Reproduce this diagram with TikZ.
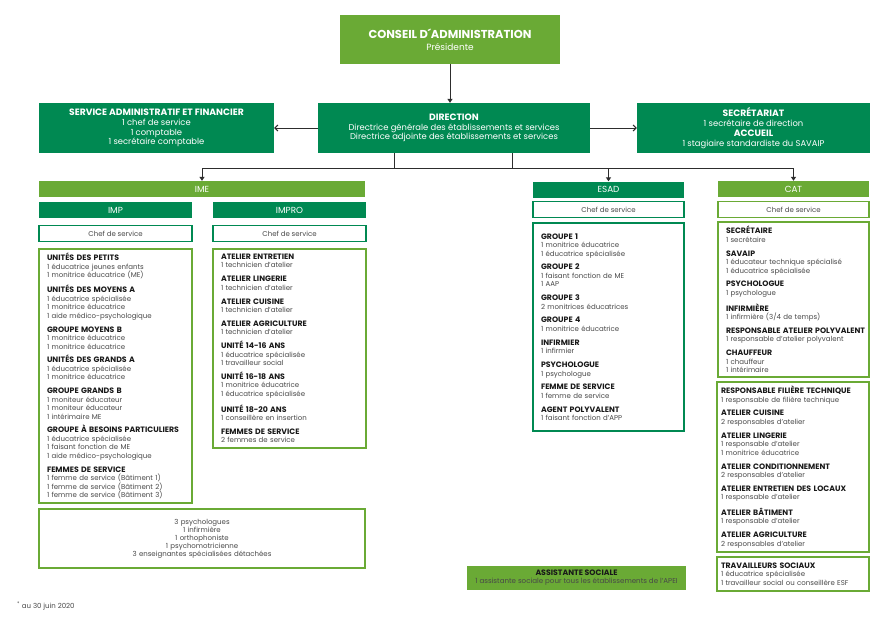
\documentclass[tikz,border=0pt]{standalone}
\usepackage{fontspec}
\setmainfont{Poppins}
\usetikzlibrary{arrows.meta}
\definecolor{lg}{RGB}{106,170,53}
\definecolor{dg}{RGB}{0,137,82}
\definecolor{hdc}{RGB}{25,25,25}
\definecolor{txc}{RGB}{72,72,72}
\definecolor{lnc}{RGB}{45,45,45}
\newcommand{\hdr}[1]{\mbox{\fontsize{7.8}{8.5}\selectfont\bfseries\color{hdc}#1}}
\newcommand{\dhd}[1]{{\fontsize{9.2}{9.8}\selectfont\bfseries #1}}
\begin{document}
\begin{tikzpicture}[x=1pt,y=-1pt,
  topbox/.style={fill=lg, text=white, inner sep=0pt, align=center, font=\fontsize{9}{12}\selectfont},
  darkbox/.style={fill=dg, text=white, inner sep=0pt, align=center, minimum height=50pt, font=\fontsize{8.4}{9.8}\selectfont},
  bar/.style={inner sep=0pt, text=white, minimum height=16pt, font=\fontsize{8.8}{10}\selectfont},
  lgbar/.style={bar, fill=lg},
  dgbar/.style={bar, fill=dg},
  chef/.style={draw=#1, line width=1.1pt, fill=white, inner sep=0pt, text=txc, minimum height=16pt, font=\fontsize{7}{8}\selectfont},
  content/.style={draw=#1, line width=1.1pt, fill=white, inner ysep=0pt, inner xsep=8pt, align=left, text=txc, font=\fontsize{7}{8.5}\selectfont},
  line/.style={draw=lnc, line width=1pt},
  arr/.style={line, -{Triangle[length=4pt,width=5pt]}},
  barb/.style={line, -{Straight Barb[length=3pt,width=6pt]}}
]
\useasboundingbox (0,0) rectangle (881,624);
\fill[white] (0,0) rectangle (881,624);

% top level
\node[topbox, minimum width=220pt, minimum height=49pt] (conseil) at (450,39.5)
  {{\fontsize{11.5}{12}\selectfont\bfseries CONSEIL D´ADMINISTRATION}\\Présidente};
\node[darkbox, minimum width=272pt] (dir) at (454,128)
  {\dhd{DIRECTION}\\Directrice générale des établissements et services\\Directrice adjointe des établissements et services};
\node[darkbox, minimum width=235pt] (admin) at (156.5,128)
  {\dhd{SERVICE ADMINISTRATIF ET FINANCIER}\\1 chef de service\\1 comptable\\1 secrétaire comptable};
\node[darkbox, minimum width=233pt] (secr) at (753.5,128)
  {\dhd{SECRÉTARIAT}\\1 secrétaire de direction\\\dhd{ACCUEIL}\\1 stagiaire standardiste du SAVAIP};

% IME
\node[lgbar, minimum width=326pt] (ime) at (202,189) {IME};
\node[dgbar, minimum width=153pt] (imp) at (115.5,210) {IMP};
\node[dgbar, minimum width=153pt] (impro) at (289.5,210) {IMPRO};
\node[chef=dg, minimum width=153pt] (impchef) at (115.5,233.5) {Chef de service};
\node[chef=dg, minimum width=153pt] (improchef) at (289.5,233.5) {Chef de service};
\node[content=lg, text width=137pt, minimum height=254pt] (impbox) at (115.5,376) {%
\hdr{UNITÉS DES PETITS}\\
1 éducatrice jeunes enfants\\
1 monitrice éducatrice (ME)\\[5.3pt]
\hdr{UNITÉS DES MOYENS A}\\
1 éducatrice spécialisée\\
1 monitrice éducatrice\\
1 aide médico-psychologique\\[5.3pt]
\hdr{GROUPE MOYENS B}\\
1 monitrice éducatrice\\
1 monitrice éducatrice\\[5.3pt]
\hdr{UNITÉS DES GRANDS A}\\
1 éducatrice spécialisée\\
1 monitrice éducatrice\\[5.3pt]
\hdr{GROUPE GRANDS B}\\
1 moniteur éducateur\\
1 moniteur éducateur\\
1 intérimaire ME\\[5.3pt]
\hdr{GROUPE À BESOINS PARTICULIERS}\\
1 éducatrice spécialisée\\
1 faisant fonction de ME\\
1 aide médico-psychologique\\[5.3pt]
\hdr{FEMMES DE SERVICE}\\
1 femme de service (Bâtiment 1)\\
1 femme de service (Bâtiment 2)\\
1 femme de service (Bâtiment 3)};
\node[content=lg, text width=137pt, minimum height=199pt] (improbox) at (289.5,348.5) {%
\hdr{ATELIER ENTRETIEN}\\
1 technicien d'atelier\\[5.3pt]
\hdr{ATELIER LINGERIE}\\
1 technicien d'atelier\\[5.3pt]
\hdr{ATELIER CUISINE}\\
1 technicien d'atelier\\[5.3pt]
\hdr{ATELIER AGRICULTURE}\\
1 technicien d'atelier\\[5.3pt]
\hdr{UNITÉ 14-16 ANS}\\
1 éducatrice spécialisée\\
1 travailleur social\\[5.3pt]
\hdr{UNITÉ 16-18 ANS}\\
1 monitrice éducatrice\\
1 éducatrice spécialisée\\[5.3pt]
\hdr{UNITÉ 18-20 ANS}\\
1 conseillère en insertion\\[5.3pt]
\hdr{FEMMES DE SERVICE}\\
2 femmes de service};
\node[content=lg, align=center, text width=310pt, minimum height=59pt, font=\fontsize{7}{8}\selectfont] (imeextra) at (202,538.5) {%
3 psychologues\\1 infirmière\\1 orthophoniste\\1 psychomotricienne\\3 enseignantes spécialisées détachées};

% ESAD
\node[dgbar, minimum width=151pt] (esad) at (608.5,189.5) {ESAD};
\node[chef=dg, minimum width=151pt] (esadchef) at (608.5,209.5) {Chef de service};
\node[content=dg, text width=135pt, minimum height=208pt] (esadbox) at (608.5,327) {%
\hdr{GROUPE 1}\\
1 monitrice éducatrice\\
1 éducatrice spécialisée\\[5.3pt]
\hdr{GROUPE 2}\\
1 faisant fonction de ME\\
1 AAP\\[5.3pt]
\hdr{GROUPE 3}\\
2 monitrices éducatrices\\[5.3pt]
\hdr{GROUPE 4}\\
1 monitrice éducatrice\\[5.3pt]
\hdr{INFIRMIER}\\
1 infirmier\\[5.3pt]
\hdr{PSYCHOLOGUE}\\
1 psychologue\\[5.3pt]
\hdr{FEMME DE SERVICE}\\
1 femme de service\\[5.3pt]
\hdr{AGENT POLYVALENT}\\
1 faisant fonction d'APP};

% CAT
\node[lgbar, minimum width=151pt] (cat) at (793.5,189) {CAT};
\node[chef=lg, minimum width=151pt] (catchef) at (793.5,209.5) {Chef de service};
\node[content=lg, text width=135pt, minimum height=155pt] (catbox) at (793.5,299.5) {%
\hdr{SECRÉTAIRE}\\
1 secrétaire\\[5.3pt]
\hdr{SAVAIP}\\
1 éducateur technique spécialisé\\
1 éducatrice spécialisée\\[5.3pt]
\hdr{PSYCHOLOGUE}\\
1 psychologue\\[5.3pt]
\hdr{INFIRMIÈRE}\\
1 infirmière (3/4 de temps)\\[5.3pt]
\hdr{RESPONSABLE ATELIER POLYVALENT}\\
1 responsable d'atelier polyvalent\\[5.3pt]
\hdr{CHAUFFEUR}\\
1 chauffeur\\
1 intérimaire};
\node[content=lg, inner xsep=4pt, text width=144pt, minimum height=170pt] (atelbox) at (793,467) {%
\hdr{RESPONSABLE FILIÈRE TECHNIQUE}\\
1 responsable de filière technique\\[5.3pt]
\hdr{ATELIER CUISINE}\\
2 responsables d'atelier\\[5.3pt]
\hdr{ATELIER LINGERIE}\\
1 responsable d'atelier\\
1 monitrice éducatrice\\[5.3pt]
\hdr{ATELIER CONDITIONNEMENT}\\
2 responsables d'atelier\\[5.3pt]
\hdr{ATELIER ENTRETIEN DES LOCAUX}\\
1 responsable d'atelier\\[5.3pt]
\hdr{ATELIER BÂTIMENT}\\
1 responsable d'atelier\\[5.3pt]
\hdr{ATELIER AGRICULTURE}\\
2 responsables d'atelier};
\node[content=lg, inner xsep=4pt, text width=144pt, minimum height=34pt] (travbox) at (793,574) {%
\hdr{TRAVAILLEURS SOCIAUX}\\
1 éducatrice spécialisée\\
1 travailleur social ou conseillère ESF};

% assistante sociale
\node[fill=lg, inner sep=0pt, align=center, minimum width=219pt, minimum height=24pt, text=txc, font=\fontsize{7.1}{8}\selectfont] (assist) at (576.5,578) {%
\hdr{ASSISTANTE SOCIALE}\\1 assistante sociale pour tous les établissements de l'APEI};

% footnote
\node[anchor=west, inner sep=0pt, text=txc, font=\fontsize{7}{8}\selectfont] (note) at (17,606) {\textsuperscript{*} au 30 juin 2020};

% connectors
\coordinate (leg1) at (394,168);
\coordinate (leg2) at (512,168);
\draw[arr] (conseil.south) -- (conseil.south |- dir.north);
\draw[barb] (dir.west) -- (admin.east);
\draw[barb] (dir.east) -- (secr.west);
\draw[line] (leg1 |- dir.south) -- (leg1);
\draw[line] (leg2 |- dir.south) -- (leg2);
\draw[line] (ime.north |- leg1) -- (cat.north |- leg1);
\draw[arr] (ime.north |- leg1) -- (ime.north);
\draw[arr] (esad.north |- leg1) -- (esad.north);
\draw[arr] (cat.north |- leg1) -- (cat.north);
\end{tikzpicture}
\end{document}
